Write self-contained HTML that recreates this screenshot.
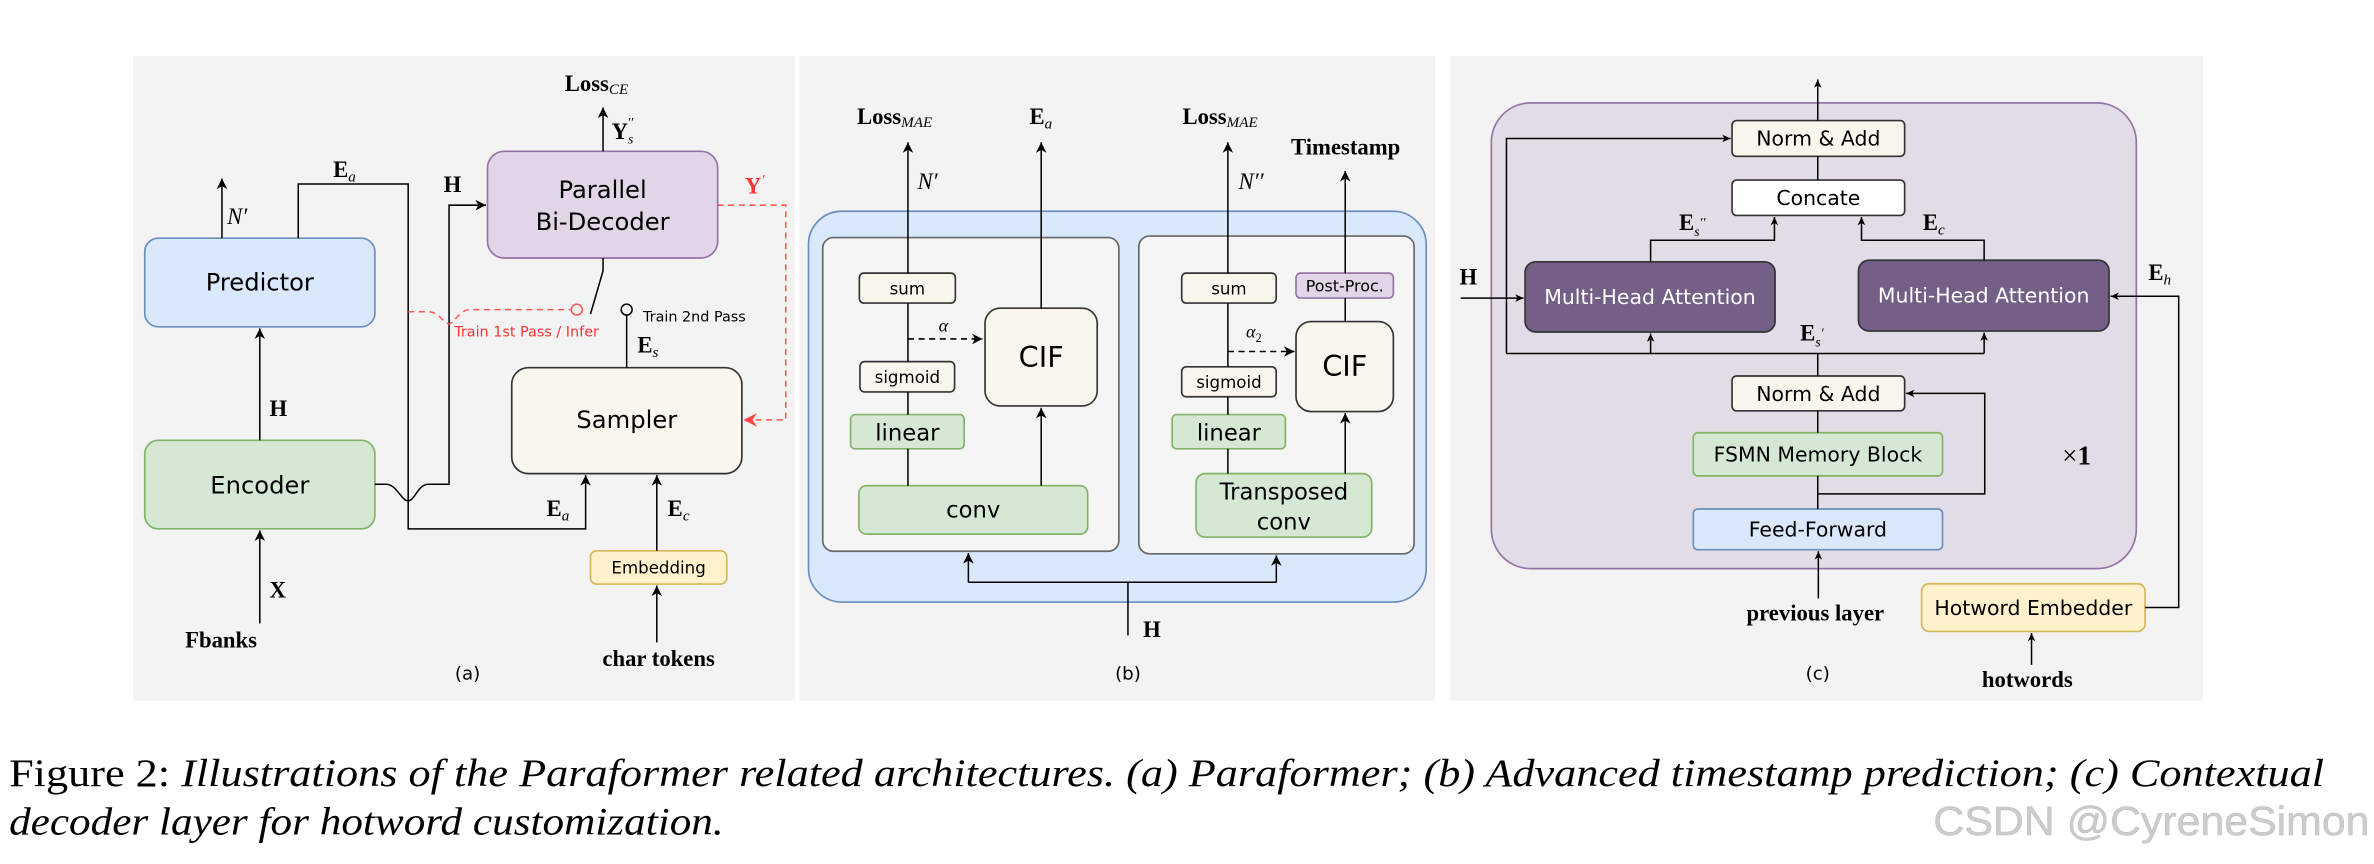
<!DOCTYPE html>
<html><head><meta charset="utf-8"><style>
html,body{margin:0;padding:0;background:#fff;}
svg{display:block;}
.box{font-family:"DejaVu Sans","Liberation Sans",sans-serif;}
.m{font-family:"Liberation Serif","DejaVu Serif",serif;font-weight:bold;}
.mi{font-family:"Liberation Serif","DejaVu Serif",serif;font-style:italic;font-weight:normal;}
</style></head><body>
<svg width="2374" height="864" viewBox="0 0 1568 571" preserveAspectRatio="none" xmlns="http://www.w3.org/2000/svg">
<defs>
<marker id="ar" markerWidth="8" markerHeight="8" refX="7" refY="4" orient="auto" markerUnits="userSpaceOnUse"><path d="M0,0.5 L7,4 L0,7.5 L2,4 Z" fill="#000"/></marker>
<marker id="ars" markerWidth="6" markerHeight="6" refX="5.5" refY="3" orient="auto" markerUnits="userSpaceOnUse"><path d="M0,0.5 L5.5,3 L0,5.5 L1.5,3 Z" fill="#000"/></marker>
<marker id="arr" markerWidth="10" markerHeight="10" refX="9" refY="5" orient="auto" markerUnits="userSpaceOnUse"><path d="M0,0.5 L9,5 L0,9.5 L3,5 Z" fill="#f44"/></marker>
</defs>
<rect width="1568" height="571" fill="#fff"/>
<rect x="88" y="37" width="437" height="426" fill="#f3f3f3"/>
<rect x="528" y="37" width="420" height="426" fill="#f3f3f3"/>
<rect x="958" y="37" width="497" height="426" fill="#f3f3f3"/>

<g class="box" stroke-width="1.1" fill="none">
<rect x="95.6" y="157.4" width="152" height="58.6" rx="9" fill="#dae8fc" stroke="#6c8ebf"/>
<rect x="95.6" y="291" width="152" height="58.5" rx="9" fill="#d5e8d4" stroke="#82b366"/>
<rect x="322" y="100" width="152" height="70.5" rx="11" fill="#e1d5e7" stroke="#9673a6"/>
<rect x="338" y="243" width="152" height="70" rx="11" fill="#f9f7ed" stroke="#333"/>
<rect x="390" y="364" width="90" height="22" rx="4" fill="#fff2cc" stroke="#d6b656"/>
<g stroke="#000" stroke-width="1">
<path d="M146.6 157.4 V118" marker-end="url(#ar)"/>
<path d="M197 157.4 V121.6 H269.6 V349.5 H386.8 V314" marker-end="url(#ar)"/>
<path d="M171.6 291 V217" marker-end="url(#ar)"/>
<path d="M171.6 412 V350.5" marker-end="url(#ar)"/>
<path d="M247.6 320 L255 320 C262 320 265 331 269.6 331 C274 331 276 320 283 320 L296.6 320 L296.6 135.6 L321 135.6" marker-end="url(#ar)"/>
<path d="M398.3 100 V71" marker-end="url(#ar)"/>
<path d="M398.3 170.5 V179 L390 207.6"/>
<path d="M413.9 208.3 V243"/>
<circle cx="413.9" cy="204.6" r="3.6" fill="none"/>
<path d="M433.8 364 V314" marker-end="url(#ar)"/>
<path d="M433.8 424.6 V387" marker-end="url(#ar)"/>
</g>
<g stroke="#f55" stroke-width="1" stroke-dasharray="4,3">
<path d="M474 135.6 H519 V277.5 H491" marker-end="url(#arr)"/>
<path d="M269.6 206 L283 206 C290 206 293 214 296.6 214 C300 214 303 205 310 204.6 L377.3 204.6"/>
</g>
<circle cx="381" cy="204.6" r="3.6" fill="none" stroke="#f55" stroke-width="1"/>
<g fill="#000" stroke="none" text-anchor="middle">
<text x="171.6" y="192" font-size="16">Predictor</text>
<text x="171.6" y="326" font-size="16">Encoder</text>
<text x="398" y="131" font-size="16">Parallel</text>
<text x="398" y="152" font-size="16">Bi-Decoder</text>
<text x="414" y="283" font-size="16">Sampler</text>
<text x="435" y="379" font-size="11">Embedding</text>
<text x="308.8" y="449" font-size="12">(a)</text>
</g>
<text x="424.7" y="212.5" font-size="9.5" class="box" fill="#000" stroke="none">Train 2nd Pass</text>
<text x="300" y="222.5" font-size="9.5" class="box" fill="#f33" stroke="none">Train 1st Pass / Infer</text>
</g>
<g fill="#000" font-size="15">
<text class="mi" x="150" y="148">N′</text>
<text class="m" x="220" y="117">E<tspan class="mi" font-size="10" dy="3">a</tspan></text>
<text class="m" x="178" y="275">H</text>
<text class="m" x="178" y="395">X</text>
<text class="m" x="146" y="428" text-anchor="middle">Fbanks</text>
<text class="m" x="293" y="127">H</text>
<text class="m" x="373" y="60">Loss<tspan class="mi" font-size="10" dy="2">CE</tspan></text>
<text class="m" x="404" y="92">Y<tspan class="mi" font-size="9" dy="3">s</tspan><tspan class="mi" font-size="9" dx="-4" dy="-11">′′</tspan></text>
<text class="m" x="492" y="128" fill="#f33">Y<tspan class="mi" font-size="10" dy="-6">′</tspan></text>
<text class="m" x="421" y="233">E<tspan class="mi" font-size="10" dy="3">s</tspan></text>
<text class="m" x="361" y="341">E<tspan class="mi" font-size="10" dy="3">a</tspan></text>
<text class="m" x="441" y="341">E<tspan class="mi" font-size="10" dy="3">c</tspan></text>
<text class="m" x="435" y="440" text-anchor="middle">char tokens</text>
</g>

<g class="box" stroke-width="1.1">
<rect x="534" y="139.6" width="408" height="258.3" rx="22" fill="#dae8fc" stroke="#6c8ebf"/>
<rect x="543.4" y="157" width="195.6" height="207.3" rx="7" fill="#f5f5f5" stroke="#666"/>
<rect x="752.2" y="156" width="181.8" height="210" rx="7" fill="#f5f5f5" stroke="#666"/>
<rect x="567.6" y="180.5" width="63.4" height="19.8" rx="3" fill="#f9f7ed" stroke="#333"/>
<rect x="568" y="239" width="62.5" height="20" rx="3" fill="#f9f7ed" stroke="#333"/>
<rect x="561.8" y="274" width="75" height="22.6" rx="3" fill="#d5e8d4" stroke="#82b366"/>
<rect x="567.3" y="321" width="151.1" height="32" rx="5" fill="#d5e8d4" stroke="#82b366"/>
<rect x="650.6" y="203.7" width="74.1" height="64.6" rx="10" fill="#f9f7ed" stroke="#333"/>
<rect x="780.5" y="180.5" width="62.4" height="19.8" rx="3" fill="#f9f7ed" stroke="#333"/>
<rect x="780.5" y="242.4" width="62.4" height="19.8" rx="3" fill="#f9f7ed" stroke="#333"/>
<rect x="774.2" y="274" width="74.8" height="22.6" rx="3" fill="#d5e8d4" stroke="#82b366"/>
<rect x="790" y="313" width="116" height="42" rx="6" fill="#d5e8d4" stroke="#82b366"/>
<rect x="856" y="180.5" width="64.3" height="16.5" rx="3" fill="#e1d5e7" stroke="#9673a6"/>
<rect x="856" y="212.5" width="64.3" height="59.5" rx="10" fill="#f9f7ed" stroke="#333"/>
<g stroke="#000" stroke-width="1" fill="none">
<path d="M599.7 180.5 V94" marker-end="url(#ar)"/>
<path d="M599.7 200.3 V239 M599.7 259 V274 M599.7 296.6 V321"/>
<path d="M599.7 224 H649" stroke-dasharray="4,3" marker-end="url(#ar)"/>
<path d="M687.7 203.7 V94" marker-end="url(#ar)"/>
<path d="M687.7 321 V269.5" marker-end="url(#ar)"/>
<path d="M811 180.5 V94" marker-end="url(#ar)"/>
<path d="M811 200.3 V242.4 M811 262.2 V274 M811 296.6 V313"/>
<path d="M811 232.3 H855" stroke-dasharray="4,3" marker-end="url(#ar)"/>
<path d="M888.5 180.5 V113" marker-end="url(#ar)"/>
<path d="M888.5 197 V212.5"/>
<path d="M888.5 313 V273" marker-end="url(#ar)"/>
<path d="M745 420 V384.8 M639.6 384.8 H843"/>
<path d="M639.6 384.8 V365.5" marker-end="url(#ar)"/>
<path d="M843 384.8 V367" marker-end="url(#ar)"/>
</g>
<g fill="#000" text-anchor="middle">
<text x="599.3" y="194.5" font-size="11">sum</text>
<text x="599.3" y="253" font-size="11">sigmoid</text>
<text x="599.3" y="291" font-size="15">linear</text>
<text x="642.8" y="342" font-size="15">conv</text>
<text x="687.7" y="242.5" font-size="19">CIF</text>
<text x="811.7" y="194.5" font-size="11">sum</text>
<text x="811.7" y="256.5" font-size="11">sigmoid</text>
<text x="811.7" y="291" font-size="15">linear</text>
<text x="848" y="330" font-size="15">Transposed</text>
<text x="848" y="350" font-size="15">conv</text>
<text x="888.2" y="192.5" font-size="10.5">Post-Proc.</text>
<text x="888.2" y="248.5" font-size="19">CIF</text>
<text x="745" y="449" font-size="12">(b)</text>
</g>
</g>
<g fill="#000" font-size="15">
<text class="m" x="566" y="82">Loss<tspan class="mi" font-size="10" dy="2">MAE</tspan></text>
<text class="m" x="680" y="82">E<tspan class="mi" font-size="10" dy="3">a</tspan></text>
<text class="m" x="781" y="82">Loss<tspan class="mi" font-size="10" dy="2">MAE</tspan></text>
<text class="m" x="888.8" y="102" text-anchor="middle">Timestamp</text>
<text class="mi" x="606" y="125">N′</text>
<text class="mi" x="818" y="125">N′′</text>
<text class="mi" x="620" y="219" font-size="12">α</text>
<text class="mi" x="823" y="223" font-size="12">α<tspan font-size="8" dy="3" font-style="normal">2</tspan></text>
<text class="m" x="755" y="421">H</text>
</g>

<g class="box" stroke-width="1.1">
<rect x="985" y="68" width="426" height="307.8" rx="26" fill="#e1dce5" stroke="#9673a6"/>
<rect x="1144" y="79.7" width="114" height="23.6" rx="3" fill="#f9f7ed" stroke="#333"/>
<rect x="1144" y="119" width="114" height="23.4" rx="3" fill="#fff" stroke="#333"/>
<rect x="1007.3" y="173" width="165.1" height="46.4" rx="7" fill="#745f87" stroke="#333"/>
<rect x="1227.5" y="172" width="165.5" height="46.8" rx="7" fill="#745f87" stroke="#333"/>
<rect x="1144" y="248.5" width="114" height="23" rx="3" fill="#f9f7ed" stroke="#333"/>
<rect x="1118.4" y="286" width="164.6" height="28.5" rx="3" fill="#d5e8d4" stroke="#82b366"/>
<rect x="1118.4" y="336.4" width="164.6" height="26.9" rx="3" fill="#dae8fc" stroke="#6c8ebf"/>
<rect x="1269.2" y="385.8" width="147.6" height="31.5" rx="5" fill="#fff2cc" stroke="#d6b656"/>
<g stroke="#000" stroke-width="1" fill="none">
<path d="M1200.6 79.7 V52.5" marker-end="url(#ars)"/>
<path d="M1200.6 103.3 V119"/>
<path d="M1090.2 173 V158.8 H1172 V143.4" marker-end="url(#ars)"/>
<path d="M1310.5 172 V158.8 H1229.5 V143.4" marker-end="url(#ars)"/>
<path d="M1200.6 248.5 V233.6 M995 233.6 H1310.5"/>
<path d="M1090.2 233.6 V220.4" marker-end="url(#ars)"/>
<path d="M1310.5 233.6 V219.8" marker-end="url(#ars)"/>
<path d="M995 233.6 V91.5 H1143" marker-end="url(#ars)"/>
<path d="M964.8 197 H1006.3" marker-end="url(#ars)"/>
<path d="M1416.8 401.5 H1439 V195.8 H1394" marker-end="url(#ars)"/>
<path d="M1341.8 439.4 V418.3" marker-end="url(#ars)"/>
<path d="M1201 395.5 V364.3" marker-end="url(#ars)"/>
<path d="M1200.6 336.4 V314.5 M1200.6 286 V271.5"/>
<path d="M1200.6 326.4 H1310.9 V260 H1259" marker-end="url(#ars)"/>
</g>
<g fill="#000" text-anchor="middle" font-size="13.5">
<text x="1201" y="96">Norm &amp; Add</text>
<text x="1201" y="135.5">Concate</text>
<text x="1089.8" y="201" fill="#fff">Multi-Head Attention</text>
<text x="1310.2" y="200" fill="#fff">Multi-Head Attention</text>
<text x="1201" y="265">Norm &amp; Add</text>
<text x="1200.7" y="305">FSMN Memory Block</text>
<text x="1200.7" y="354.5">Feed-Forward</text>
<text x="1343" y="406.5">Hotword Embedder</text>
<text x="1200.6" y="449" font-size="12">(c)</text>
</g>
</g>
<g fill="#000" font-size="15">
<text class="m" x="1109" y="152">E<tspan class="mi" font-size="9" dy="4">s</tspan><tspan class="mi" font-size="9" dy="-6">′′</tspan></text>
<text class="m" x="1270" y="152">E<tspan class="mi" font-size="10" dy="3">c</tspan></text>
<text class="m" x="1189" y="225">E<tspan class="mi" font-size="9" dy="4">s</tspan><tspan class="mi" font-size="9" dy="-6">′</tspan></text>
<text class="m" x="964" y="188">H</text>
<text class="m" x="1419" y="185">E<tspan class="mi" font-size="10" dy="3">h</tspan></text>
<text class="m" x="1199" y="410" text-anchor="middle">previous layer</text>
<text class="m" x="1339" y="454" text-anchor="middle">hotwords</text>
<text x="1371.6" y="307" text-anchor="middle" font-size="18" font-family="Liberation Serif, serif"><tspan font-weight="normal">×</tspan><tspan font-weight="bold">1</tspan></text>
</g>

<text x="6" y="519.5" font-size="26" font-family="Liberation Serif, serif" fill="#000" textLength="1529" lengthAdjust="spacingAndGlyphs">Figure 2: <tspan font-style="italic">Illustrations of the Paraformer related architectures. (a) Paraformer; (b) Advanced timestamp prediction; (c) Contextual</tspan></text>
<text x="6" y="551.5" font-size="26" font-family="Liberation Serif, serif" font-style="italic" fill="#000" textLength="472" lengthAdjust="spacingAndGlyphs">decoder layer for hotword customization.</text>
<text x="1277" y="552" font-size="27" font-family="Liberation Sans, sans-serif" fill="#ccc" stroke="#bbb" stroke-width="0.3" textLength="288" lengthAdjust="spacingAndGlyphs">CSDN @CyreneSimon</text>
</svg>
</body></html>
